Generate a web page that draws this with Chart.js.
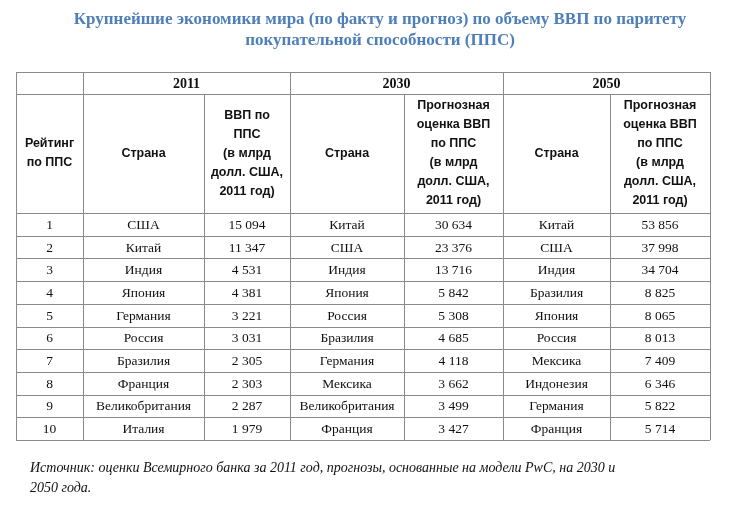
<!DOCTYPE html>
<html>
<head>
<meta charset="utf-8">
<script src="https://cdn.jsdelivr.net/npm/chart.js@4"></script>
<style>
  body { margin: 0; background: #fff; }
</style>
</head>
<body>
<canvas id="tbl" width="753" height="522"></canvas>
<script>
const titleLines = [
    'Крупнейшие экономики мира (по факту и прогноз) по объему ВВП по паритету',
    'покупательной способности (ППС)'
];
const years = ['2011', '2030', '2050'];
const ranks = ['1', '2', '3', '4', '5', '6', '7', '8', '9', '10'];
const countries2011 = ['США', 'Китай', 'Индия', 'Япония', 'Германия', 'Россия', 'Бразилия', 'Франция', 'Великобритания', 'Италия'];
const gdp2011 = ['15 094', '11 347', '4 531', '4 381', '3 221', '3 031', '2 305', '2 303', '2 287', '1 979'];
const countries2030 = ['Китай', 'США', 'Индия', 'Япония', 'Россия', 'Бразилия', 'Германия', 'Мексика', 'Великобритания', 'Франция'];
const gdp2030 = ['30 634', '23 376', '13 716', '5 842', '5 308', '4 685', '4 118', '3 662', '3 499', '3 427'];
const countries2050 = ['Китай', 'США', 'Индия', 'Бразилия', 'Япония', 'Россия', 'Мексика', 'Индонезия', 'Германия', 'Франция'];
const gdp2050 = ['53 856', '37 998', '34 704', '8 825', '8 065', '8 013', '7 409', '6 346', '5 822', '5 714'];
const headRank = ['Рейтинг', 'по ППС'];
const headCountry = ['Страна'];
const headGdp = ['ВВП по', 'ППС', '(в млрд', 'долл. США,', '2011 год)'];
const headForecast = ['Прогнозная', 'оценка ВВП', 'по ППС', '(в млрд', 'долл. США,', '2011 год)'];
const sourceLines = [
    'Источник: оценки Всемирного банка за 2011 год, прогнозы, основанные на модели PwC, на 2030 и',
    '2050 года.'
];

// layout (column widths, row heights)
const colW = [67, 121, 86, 114, 99, 107, 100];
const colEdges = colW.reduce((a, w) => { a.push(a[a.length - 1] + w); return a; }, [0]);
const rowH = [22, 119].concat(ranks.map(() => 22.7));
const rowEdges = rowH.reduce((a, h) => { a.push(a[a.length - 1] + h); return a; }, [0]);

const columns = [ranks, countries2011, gdp2011, countries2030, gdp2030, countries2050, gdp2050];
const headers = [headRank, headCountry, headGdp, headCountry, headForecast, headCountry, headForecast];

const tablePlugin = {
    id: 'table',
    afterDraw(chart) {
        const c = chart.ctx;
        const xs = chart.scales.x, ys = chart.scales.y;
        const X = v => xs.getPixelForValue(v);
        const Y = v => ys.getPixelForValue(v);
        c.save();

        // title
        c.fillStyle = '#4f7fb8';
        c.font = 'bold 17px "Liberation Serif"';
        c.textAlign = 'center';
        c.textBaseline = 'middle';
        c.fillText(titleLines[0], 380, 20);
        c.fillText(titleLines[1], 380, 41);

        // grid
        c.strokeStyle = '#8a8a8a';
        c.lineWidth = 1;
        c.beginPath();
        rowEdges.forEach((r, i) => {
            const y = Math.round(Y(r)) + 0.5;
            c.moveTo(X(0), y); c.lineTo(X(colEdges[colEdges.length - 1]), y);
        });
        colEdges.forEach((e, i) => {
            const x = Math.round(X(e)) + 0.5;
            const skipTop = (i === 2 || i === 4 || i === 6);
            c.moveTo(x, skipTop ? Y(rowEdges[1]) : Y(0));
            c.lineTo(x, Y(rowEdges[rowEdges.length - 1]));
        });
        c.stroke();

        c.fillStyle = '#111';
        // year header
        c.font = 'bold 14px "Liberation Serif"';
        years.forEach((yr, i) => {
            const x0 = colEdges[1 + i * 2], x1 = colEdges[3 + i * 2];
            c.fillText(yr, (X(x0) + X(x1)) / 2, (Y(0) + Y(rowEdges[1])) / 2 + 1);
        });

        // column headers
        c.font = 'bold 12.5px "Liberation Sans"';
        headers.forEach((lines, i) => {
            const cx = (X(colEdges[i]) + X(colEdges[i + 1])) / 2;
            const cy = (Y(rowEdges[1]) + Y(rowEdges[2])) / 2;
            const lh = 19;
            lines.forEach((t, k) => {
                c.fillText(t, cx, cy + (k - (lines.length - 1) / 2) * lh);
            });
        });

        // body
        c.font = '13.5px "Liberation Serif"';
        columns.forEach((col, i) => {
            const cx = (X(colEdges[i]) + X(colEdges[i + 1])) / 2;
            col.forEach((t, r) => {
                const cy = (Y(rowEdges[r + 2]) + Y(rowEdges[r + 3])) / 2 + 1;
                c.fillText(t, cx, cy);
            });
        });

        // source
        c.font = 'italic 14px "Liberation Serif"';
        c.textAlign = 'left';
        c.fillText(sourceLines[0], 30, 468);
        c.fillText(sourceLines[1], 30, 488);
        c.restore();
    }
};

new Chart(document.getElementById('tbl'), {
    type: 'scatter',
    data: { datasets: [] },
    options: {
        responsive: false,
        animation: false,
        layout: { padding: { left: 16, right: 43, top: 72, bottom: 82 } },
        plugins: { legend: { display: false }, tooltip: { enabled: false } },
        scales: {
            x: { type: 'linear', display: false, min: 0, max: colEdges[colEdges.length - 1] },
            y: { type: 'linear', display: false, reverse: true, min: 0, max: rowEdges[rowEdges.length - 1] }
        }
    },
    plugins: [tablePlugin]
});
</script>
</body>
</html>
